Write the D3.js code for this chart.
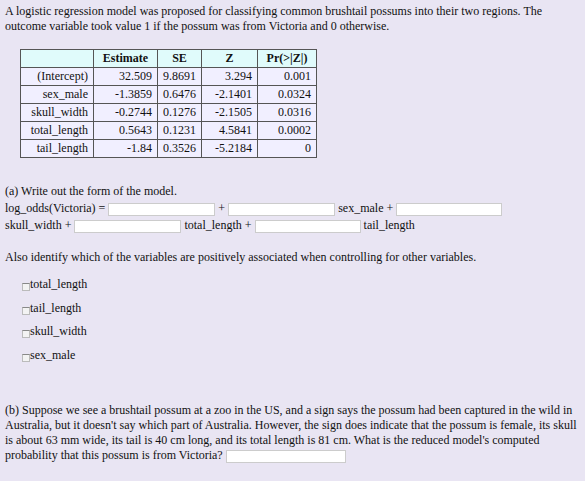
<!DOCTYPE html>
<html><head><meta charset="utf-8">
<script src="https://cdn.jsdelivr.net/npm/d3@7"></script>
<style>
body{margin:0;background:#e9e5f3;font-family:"Liberation Serif","Times New Roman",serif;font-size:12px;color:#111;width:585px;height:481px;overflow:hidden;position:relative}
.t{position:absolute;white-space:nowrap}
.inp{display:inline-block;vertical-align:middle;height:13px;background:#fff;border:1px solid #ccc;box-sizing:border-box;margin:0 3px}
.abs{position:absolute}
table{position:absolute;left:20px;top:49px;border-collapse:collapse;border:1px solid #222}
td,th{border:1px solid #555;padding:0 5px;height:17px;font-size:12px;text-align:right}
th{background:#e0fbfb;text-align:center}
td{background:#f1efff}
.cb{position:absolute;width:8px;height:8px;border:1px solid #bbb;border-top:1px solid #888;background:#f3f3f3;box-sizing:border-box}
</style></head><body>
<script>
// coefficient table values
const rowNames = ["(Intercept)", "sex_male", "skull_width", "total_length", "tail_length"];
const colNames = ["", "Estimate", "SE", "Z", "Pr(>|Z|)"];
const estimate = ["32.509", "-1.3859", "-0.2744", "0.5643", "-1.84"];
const se = ["9.8691", "0.6476", "0.1276", "0.1231", "0.3526"];
const zval = ["3.294", "-2.1401", "-2.1505", "4.5841", "-5.2184"];
const pval = ["0.001", "0.0324", "0.0316", "0.0002", "0"];
const choices = ["total_length", "tail_length", "skull_width", "sex_male"];

const body = d3.select("body");
function text(x, y, s) { return body.append("div").attr("class", "t").style("left", x + "px").style("top", y + "px").text(s); }

// a line of text mixed with blank input boxes; parts: strings or widths
function formLine(y, parts) {
  let line = body.append("div").attr("class", "t").style("left", "5px").style("top", y + "px");
  parts.forEach(p => {
    if (typeof p === "number") line.append("span").attr("class", "inp").style("width", p + "px");
    else line.append("span").text(p);
  });
}

text(5, 4, "A logistic regression model was proposed for classifying common brushtail possums into their two regions. The");
text(5, 19, "outcome variable took value 1 if the possum was from Victoria and 0 otherwise.");

let table = body.append("table");
let widths = [73, 64, 40, 56, 59];
table.append("tr").selectAll("th").data(colNames).enter().append("th")
  .style("width", (d, i) => (widths[i] - 11) + "px").text(d => d);
rowNames.forEach((r, i) => {
  table.append("tr").selectAll("td").data([r, estimate[i], se[i], zval[i], pval[i]])
    .enter().append("td").text(d => d);
});

text(5, 184, "(a) Write out the form of the model.");
formLine(201, ["log_odds(Victoria) =", 107, "+", 107, "sex_male +", 106]);
formLine(218, ["skull_width +", 107, "total_length +", 106, "tail_length"]);

text(5, 250, "Also identify which of the variables are positively associated when controlling for other variables.");
choices.forEach((c, i) => {
  let y = 277 + i * 23.5;
  body.append("div").attr("class", "cb").style("left", "22px").style("top", (y + 6) + "px");
  text(30, y, c);
});

text(5, 403, "(b) Suppose we see a brushtail possum at a zoo in the US, and a sign says the possum had been captured in the wild in");
text(5, 418, "Australia, but it doesn't say which part of Australia. However, the sign does indicate that the possum is female, its skull");
text(5, 433, "is about 63 mm wide, its tail is 40 cm long, and its total length is 81 cm. What is the reduced model's computed");
formLine(448, ["probability that this possum is from Victoria?", 120]);
</script>
</body></html>
